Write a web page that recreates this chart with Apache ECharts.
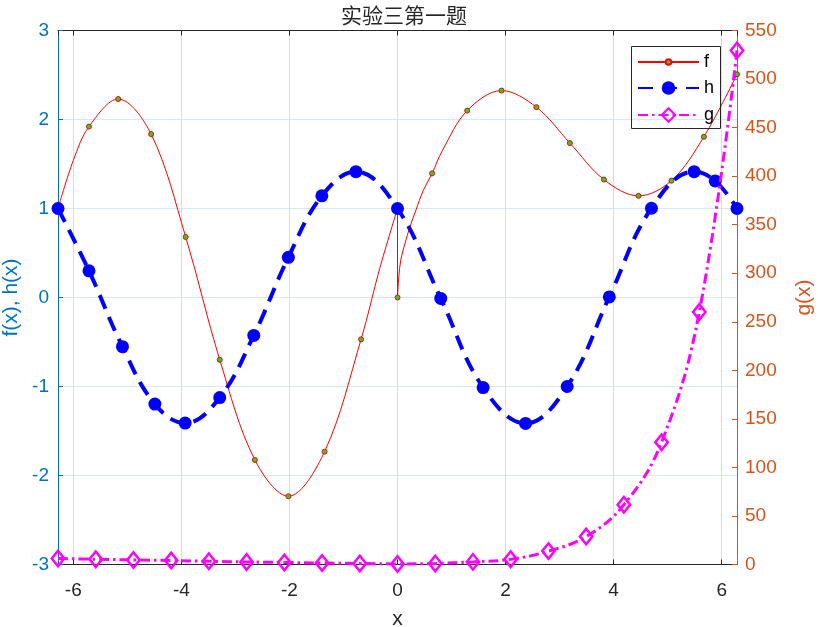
<!DOCTYPE html>
<html><head><meta charset="utf-8">
<script src="https://cdn.jsdelivr.net/npm/echarts@6/dist/echarts.min.js"></script>
<style>html,body{margin:0;padding:0;background:#fff}#c{width:818px;height:627px}</style>
</head><body><div id="c"></div>
<script>
// ---- text ----
const titleText = '实验三第一题';
const xName = 'x';
const yLeftName = 'f(x), h(x)';
const yRightName = 'g(x)';
const legendNames = ['f', 'h', 'g'];

// ---- axis ranges ----
const xMin = -6.283185, xMax = 6.283185;
const yLeftMin = -3, yLeftMax = 3, yLeftStep = 1;
const yRightMin = 0, yRightMax = 550, yRightStep = 50;

const fMarkX = [-6.283, -5.71, -5.17, -4.56, -3.92, -3.29, -2.64, -2.02, -1.35, -0.674, 0,
                0.64, 1.29, 1.925, 2.57, 3.19, 3.82, 4.46, 5.07, 5.67, 6.283];
const fMarkY = [1.0, 1.92, 2.23, 1.836, 0.68, -0.70, -1.825, -2.233, -1.732, -0.47, 0,
                1.395, 2.10, 2.325, 2.139, 1.735, 1.325, 1.142, 1.313, 1.806, 2.508];
// extra curve points of f (no marker)
const fExtraX = [-6.0, -0.33, 0.024, 0.06, 0.135, 0.228, 0.34, 0.475, 0.83];
const fExtraY = [1.54, 0.325, 0.23, 0.42, 0.60, 0.79, 0.98, 1.20, 1.65];
// left-hand limit of f at the jump x = 0
const fJumpX = 0, fJumpTop = 1.0;

// ---- h ----
const hX = [-6.283, -5.71, -5.09, -4.49, -3.93, -3.29, -2.66, -2.02, -1.40, -0.77, 0,
            0.80, 1.585, 2.37, 3.14, 3.92, 4.70, 5.49, 5.88, 6.283];
const hY = [1.0, 0.30, -0.553, -1.198, -1.411, -1.124, -0.426, 0.451, 1.142, 1.414, 1.0,
            -0.01, -1.012, -1.415, -1.0, 0.007, 1.003, 1.414, 1.31, 1.0];

// ---- g (right axis) ----
const gX = [-6.283, -5.585, -4.887, -4.189, -3.491, -2.793, -2.094, -1.396, -0.698, 0,
            0.698, 1.396, 2.094, 2.793, 3.491, 4.189, 4.887, 5.585, 6.283];
const gY = [6.2, 5.4, 4.7, 4.1, 3.3, 2.6, 2.1, 1.5, 1.1, 0.6,
            1.1, 2.7, 5.4, 13.8, 28.8, 61.5, 126, 260, 529.5];

// ---- build ----
const pts = fMarkX.map((x, i) => ({x, y: fMarkY[i], m: true}))
  .concat(fExtraX.map((x, i) => ({x, y: fExtraY[i], m: false})));
const leftPts = pts.filter(p => p.x < 0).sort((a, b) => a.x - b.x);
leftPts.push({x: fJumpX, y: fJumpTop, m: false});
const rightPts = pts.filter(p => p.x >= 0).sort((a, b) => a.x - b.x);
const toData = arr => arr.map(p => p.m ? {value: [p.x, p.y]} : {value: [p.x, p.y], symbol: 'none'});

const latin = 'Liberation Sans, Arial, sans-serif';
const dark = '#262626';
const blueAx = '#0072BD';
const orangeAx = '#D95319';
const tickFs = 19, nameFs = 21, legFs = 18;

const fBase = {
  type: 'line', name: 'f', xAxisIndex: 0, yAxisIndex: 0,
  smooth: 0.35, symbol: 'circle', symbolSize: 5,
  lineStyle: {color: '#FF0000', width: 1},
  itemStyle: {color: '#2BD02B', borderColor: '#FF0000', borderWidth: 1},
  emphasis: {disabled: true}, z: 3
};

const legText = {fontSize: legFs, lineHeight: 18, color: '#000', fontFamily: latin};

const chart = echarts.init(document.getElementById('c'), null, {renderer: 'canvas'});
chart.setOption({
  animation: false,
  backgroundColor: '#fff',
  title: {
    text: titleText, left: 399, top: 0, textAlign: 'center',
    textStyle: {fontSize: 21, fontWeight: 'normal', color: dark, fontFamily: 'Noto Sans CJK SC'}
  },
  grid: {left: 58, right: 81, top: 30.5, bottom: 62.5, containLabel: false, outerBoundsMode: 'none'},
  legend: [
    {data: ['f'], left: 637, top: 53, padding: 0, itemWidth: 61, itemHeight: 7, selectedMode: false, textStyle: legText},
    {data: ['h'], left: 637, top: 79, padding: 0, itemWidth: 61, itemHeight: 17, selectedMode: false, textStyle: legText},
    {data: ['g'], left: 637, top: 106, padding: 0, itemWidth: 61, itemHeight: 17, selectedMode: false, textStyle: legText}
  ],
  graphic: [{
    type: 'rect', left: 631, top: 46, z: 50, silent: true,
    shape: {width: 89, height: 82},
    style: {fill: 'rgba(255,255,255,0)', stroke: dark, lineWidth: 1}
  }],
  xAxis: [{
    type: 'value', min: xMin, max: xMax, splitNumber: 6, position: 'bottom',
    axisLine: {onZero: false, lineStyle: {color: dark, width: 1}},
    axisTick: {inside: true, length: 5, lineStyle: {color: dark}},
    axisLabel: {showMinLabel: false, showMaxLabel: false, fontSize: tickFs, color: dark, margin: 17, fontFamily: latin},
    splitLine: {show: true, lineStyle: {color: '#dcdcdc', width: 1}},
    name: xName, nameLocation: 'middle', nameGap: 44,
    nameTextStyle: {fontSize: nameFs, color: dark, fontFamily: latin}
  }, {
    type: 'value', min: xMin, max: xMax, splitNumber: 6, position: 'top',
    axisLine: {onZero: false, lineStyle: {color: dark, width: 1}},
    axisTick: {inside: true, length: 5, lineStyle: {color: dark}},
    axisLabel: {show: false}, splitLine: {show: false}
  }],
  yAxis: [{
    type: 'value', min: yLeftMin, max: yLeftMax, interval: yLeftStep, position: 'left',
    axisLine: {show: true, onZero: false, lineStyle: {color: blueAx, width: 1}},
    axisTick: {show: true, inside: true, length: 5, lineStyle: {color: blueAx}},
    axisLabel: {fontSize: tickFs, color: blueAx, margin: 9, fontFamily: latin},
    splitLine: {show: true, lineStyle: {color: '#d6e8f4', width: 1}},
    name: yLeftName, nameLocation: 'middle', nameGap: 31, nameRotate: 90,
    nameTextStyle: {fontSize: nameFs, color: blueAx, fontFamily: latin}
  }, {
    type: 'value', min: yRightMin, max: yRightMax, interval: yRightStep, position: 'right',
    axisLine: {show: true, onZero: false, lineStyle: {color: orangeAx, width: 1}},
    axisTick: {show: true, inside: true, length: 5, lineStyle: {color: orangeAx}},
    axisLabel: {fontSize: tickFs, color: orangeAx, margin: 8, fontFamily: latin},
    splitLine: {show: false},
    name: yRightName, nameLocation: 'middle', nameGap: 57, nameRotate: 90,
    nameTextStyle: {fontSize: nameFs, color: orangeAx, fontFamily: latin}
  }],
  series: [
    Object.assign({}, fBase, {data: toData(leftPts)}),
    Object.assign({}, fBase, {data: [[fJumpX, fJumpTop], [fJumpX, 0]], symbol: 'none', smooth: false}),
    Object.assign({}, fBase, {data: toData(rightPts)}),
    {
      type: 'line', name: 'h', xAxisIndex: 0, yAxisIndex: 0,
      data: hX.map((x, i) => [x, hY[i]]),
      smooth: 0.4, symbol: 'circle', symbolSize: 13,
      lineStyle: {color: '#0000FF', width: 4, type: [15, 9]},
      itemStyle: {color: '#0000FF'},
      emphasis: {disabled: true}, z: 4
    },
    {
      type: 'line', name: 'g', xAxisIndex: 0, yAxisIndex: 1,
      data: gX.map((x, i) => [x, gY[i]]),
      smooth: 0.4, symbol: 'diamond', symbolSize: [12.5, 15.5],
      lineStyle: {color: '#FF00FF', width: 3, type: [10, 4, 2.5, 4]},
      itemStyle: {color: 'rgba(255,255,255,0)', borderColor: '#FF00FF', borderWidth: 2.5},
      emphasis: {disabled: true}, z: 5
    }
  ]
});
</script></body></html>
